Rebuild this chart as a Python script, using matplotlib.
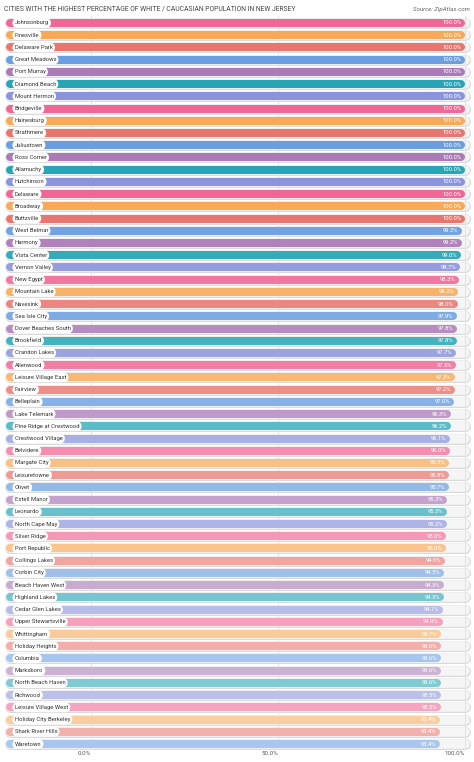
import matplotlib.pyplot as plt
from matplotlib.colors import to_rgb

plt.rcParams["font.family"] = ["Roboto", "DejaVu Sans"]

cities = [
    "Johnsonburg", "Finesville", "Delaware Park", "Great Meadows", "Port Murray",
    "Diamond Beach", "Mount Hermon", "Bridgeville", "Hainesburg", "Strathmere",
    "Juliustown", "Ross Corner", "Allamuchy", "Hutchinson", "Delaware",
    "Broadway", "Buttzville", "West Belmar", "Harmony", "Vista Center",
    "Vernon Valley", "New Egypt", "Mountain Lake", "Navesink", "Sea Isle City",
    "Dover Beaches South", "Brookfield", "Crandon Lakes", "Allenwood",
    "Leisure Village East", "Fairview", "Belleplain", "Lake Telemark",
    "Pine Ridge at Crestwood", "Crestwood Village", "Belvidere", "Margate City",
    "Leisuretowne", "Olivet", "Estell Manor", "Leonardo", "North Cape May",
    "Silver Ridge", "Port Republic", "Collings Lakes", "Corbin City",
    "Beach Haven West", "Highland Lakes", "Cedar Glen Lakes",
    "Upper Stewartsville", "Whittingham", "Holiday Heights", "Columbia",
    "Marksboro", "North Beach Haven", "Richwood", "Leisure Village West",
    "Holiday City Berkeley", "Shark River Hills", "Waretown",
]
values = [
    100.0, 100.0, 100.0, 100.0, 100.0, 100.0, 100.0, 100.0, 100.0, 100.0,
    100.0, 100.0, 100.0, 100.0, 100.0, 100.0, 100.0, 99.3, 99.2, 99.0,
    98.7, 98.3, 98.2, 98.0, 97.9, 97.8, 97.8, 97.7, 97.5, 97.3,
    97.2, 97.0, 96.3, 96.2, 96.1, 96.0, 95.8, 95.8, 95.7, 95.3,
    95.3, 95.2, 95.0, 95.0, 94.6, 94.5, 94.3, 94.3, 94.1, 94.0,
    93.7, 93.6, 93.6, 93.6, 93.6, 93.5, 93.5, 93.4, 93.4, 93.4,
]
palette = ["#f06695", "#f7a957", "#e8766f", "#6a9ee0", "#ab7bb7", "#27a5b5", "#8b94db"]
tick_values = [0, 50, 100]

fig = plt.figure(figsize=(4.74, 7.62), dpi=100)
ax = fig.add_axes([0, 0, 1, 1])
ax.set_xlim(-24.33, 102.41)
ax.set_ylim(60.47, -1.88)
ax.axis("off")

vmin, vmax = min(values), max(values)
px = 3.74  # pixels per percent

for t in tick_values:
    ax.plot([t, t], [-0.6, 59.4], color="#e2e2e2", lw=0.7, zorder=2)
    ax.text(t, 59.8, f"{t:.1f}%", ha="right", va="center", fontsize=4.4, color="#555555")

for i, (city, v) in enumerate(zip(cities, values)):
    # background track
    ax.plot([-21.53, 99.87], [i, i], color="#dadada", lw=7.9, solid_capstyle="round", zorder=1)
    ax.plot([-21.53, 99.87], [i, i], color="#f5f5f5", lw=6.9, solid_capstyle="round", zorder=1)

    base = to_rgb(palette[i % len(palette)])
    k = 0.42 * (vmax - v) / (vmax - vmin)
    col = tuple(c + (1 - c) * k for c in base)
    ax.plot([-21.66, v - 4 / px], [i, i], color=col, lw=5.76, solid_capstyle="round", zorder=3)

    ax.text(-20.4, i, city, ha="left", va="center", fontsize=4.2, color="#333333", zorder=5,
            bbox=dict(boxstyle="round,pad=0.4,rounding_size=0.9", fc="white", ec="none"))
    ax.text(v - 1.0, i, f"{v:.1f}%", ha="right", va="center", fontsize=4.2,
            color="white", zorder=5)

fig.text(4 / 474, 1 - 9 / 762, "CITIES WITH THE HIGHEST PERCENTAGE OF WHITE / CAUCASIAN POPULATION IN NEW JERSEY",
         ha="left", va="center", fontsize=4.9, color="#444444")
fig.text(470 / 474, 1 - 9 / 762, "Source: ZipAtlas.com", ha="right", va="center",
         fontsize=4.4, color="#666666", style="italic")

fig.savefig("out.png", dpi=100)
